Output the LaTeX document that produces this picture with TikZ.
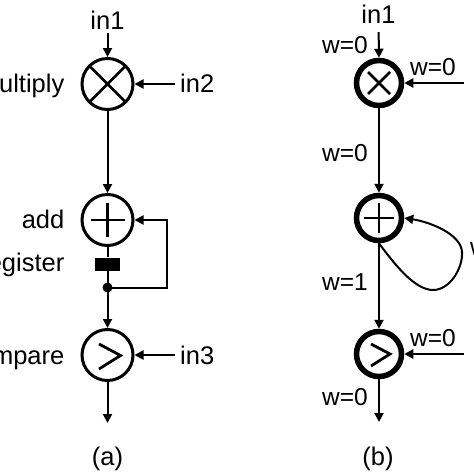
\documentclass[tikz,border=0pt]{standalone}
\usepackage{fontspec}
\setmainfont{Liberation Sans}
\usetikzlibrary{arrows.meta}
\tikzset{
  lbl/.style={inner sep=0pt,font=\fontsize{24.5}{26}\selectfont,text=black},
  lblb/.style={inner sep=0pt,font=\fontsize{25.5}{27}\selectfont,text=black},
  opa/.style={circle,draw,line width=3pt,minimum size=51pt,inner sep=0pt},
  opb/.style={circle,draw,line width=5.5pt,minimum size=45pt,inner sep=0pt},
  sym/.style={line width=2.8pt},
  wire/.style={line width=2pt,-{Triangle[length=9pt,width=9pt]}},
  plain/.style={line width=2pt},
}
\begin{document}
\begin{tikzpicture}[x=1pt,y=-1pt]
\useasboundingbox (0,0) rectangle (474,474);
% ---- (a)
\node[opa] (mul) at (107.5,84) {};
\node[opa] (add) at (107.5,220) {};
\node[opa] (cmp) at (107.5,355) {};
\draw[sym] (mul.center)+(-17,-17) -- +(17,17) (mul.center)+(-17,17) -- +(17,-17);
\draw[sym] (add.center)+(-17,0) -- +(17,0) (add.center)+(0,-17) -- +(0,17);
\draw[sym] (99,344) -- (120.5,355.5) -- (99,369);
\node[lblb,anchor=base] (ain1) at (107.5,29) {in1};
\node[lblb,anchor=base west] (ain2) at (180,92.7) {in2};
\node[lblb,anchor=base west] (ain3) at (180,364) {in3};
\node[lblb,anchor=base east] (lmul) at (64.5,92.7) {multiply};
\node[lblb,anchor=base east] (ladd) at (64.5,228) {add};
\node[lblb,anchor=base east] (lreg) at (64.5,271) {register};
\node[lblb,anchor=base east] (lcmp) at (64.5,364) {compare};
\node[lblb,anchor=base] (capa) at (107.5,465) {(a)};
\node[fill=black,minimum width=25pt,minimum height=13pt,inner sep=0pt] (reg) at (107.5,264) {};
\node[circle,fill=black,minimum size=10pt,inner sep=0pt] (dot) at (107.5,287.5) {};
\coordinate (aout) at (107.5,423);
\coordinate (fbb) at (167,287.5);
\coordinate (fbt) at (167,220);
\draw[wire,shorten <=4pt] (ain1.south) -- (mul.north);
\draw[wire,shorten <=5pt] (ain2.west|-mul) -- (mul.east);
\draw[wire] (mul.south) -- (add.north);
\draw[plain] (add.south) -- (reg.north);
\draw[plain] (reg.south) -- (dot.center);
\draw[wire] (dot.center) -- (cmp.north);
\draw[wire] (dot.center) -- (fbb) -- (fbt) -- (add.east);
\draw[wire,shorten <=5pt] (ain3.west|-cmp) -- (cmp.east);
\draw[wire] (cmp.south) -- (aout);
% ---- (b)
\node[opb] (bmul) at (379,83) {};
\node[opb] (badd) at (379,218) {};
\node[opb] (bcmp) at (379,354) {};
\draw[sym] (bmul.center)+(-11,-11) -- +(11,11) (bmul.center)+(-11,11) -- +(11,-11);
\draw[sym] (badd.center)+(-15,0) -- +(15,0) (badd.center)+(0,-15) -- +(0,15);
\draw[sym] (371,344) -- (390,354) -- (371,366);
\node[lblb,anchor=base] (bin1) at (378.5,23) {in1};
\node[lbl,anchor=base west] (w1) at (322,53) {w=0};
\node[lbl,anchor=base west] (w2) at (410,75) {w=0};
\node[lbl,anchor=base west] (w3) at (322,161) {w=0};
\node[lbl,anchor=base west] (w4) at (322,290) {w=1};
\node[lbl,anchor=base west] (w5) at (470,255) {w=1};
\node[lbl,anchor=base west] (w6) at (410,346) {w=0};
\node[lbl,anchor=base west] (w7) at (322,405) {w=0};
\node[lblb,anchor=base] (capb) at (378,465) {(b)};
\coordinate (bfree2) at (463.5,83);
\coordinate (bfree3) at (463.5,354);
\coordinate (bout) at (379,422);
\draw[wire,shorten <=9pt] (bin1.south) -- (bmul.north);
\draw[wire] (bfree2) -- (bmul.east);
\draw[wire] (bmul.south) -- (badd.north);
\draw[wire] (badd.south) -- (bcmp.north);
\draw[wire] (bfree3) -- (bcmp.east);
\draw[wire] (bcmp.south) -- (bout);
\draw[wire] (badd.south) .. controls (395,265) and (415,290) .. (433,290)
  .. controls (450,290) and (463,268) .. (462,252)
  .. controls (461,234) and (430,222) .. (badd.east);
\end{tikzpicture}
\end{document}
